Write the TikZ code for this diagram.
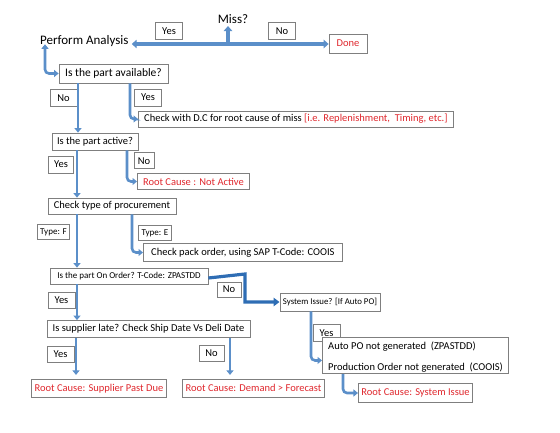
\documentclass[tikz,border=0pt]{standalone}
\usepackage{fontspec}
\setmainfont{Carlito}
\usetikzlibrary{arrows.meta}
\definecolor{lineblue}{HTML}{5B8FC9}
\definecolor{darkblue}{HTML}{2E6DB4}
\definecolor{boxgray}{HTML}{7F7F7F}
\definecolor{rcred}{HTML}{E0282E}
\tikzset{
  box/.style={draw=boxgray, line width=0.8pt, fill=white, inner xsep=3pt, inner ysep=0pt, minimum height=#1, font=\fontsize{10.5}{12}\selectfont},
  box/.default=17pt,
  lab/.style={box, minimum width=27pt, inner xsep=2pt},
  redbox/.style={box=#1, text=rcred},
  redbox/.default=18pt,
  conn/.style={draw=lineblue, line width=2.6pt, rounded corners=4pt, -{Triangle[length=4.5pt,width=7pt]}},
  thick conn/.style={conn, line width=3.2pt, {Triangle[length=5pt,width=8.5pt]}-{Triangle[length=5pt,width=8.5pt]}},
  no conn/.style={draw=darkblue, line width=3.2pt, -{Triangle[length=6pt,width=8.5pt]}},
}
\begin{document}
\begin{tikzpicture}[x=1pt,y=-1pt]
\useasboundingbox (0,0) rectangle (560,433);
% top row
\node[font=\fontsize{13}{14}\selectfont] (miss) at (233,19) {Miss?};
\node[font=\fontsize{13}{14}\selectfont, anchor=west, inner sep=0pt] (pa) at (40,41.5) {Perform Analysis};
\node[lab] (yes1) at (169,31) {Yes};
\node[lab] (no1) at (282,31) {No};
\node[redbox=19pt, minimum width=38pt] (done) at (348,43.5) {Done};
\coordinate (mid) at (228,44);
\draw[thick conn] ([xshift=3pt]pa.east |- mid) -- (done.west |- mid);
\draw[conn, line width=3.2pt, -{Triangle[length=5pt,width=8.5pt]}] (mid) -- ([yshift=1pt]miss.south -| mid);

% question 1
\node[box=19pt, minimum width=109pt, font=\fontsize{11.5}{13}\selectfont] (q1) at (113.5,73.5) {Is the part available?};
\draw[conn, {Triangle[length=4.5pt,width=7pt]}-{Triangle[length=4.5pt,width=7pt]}] ([xshift=5pt,yshift=3pt]pa.south west) |- (q1.west);
\node[lab] (no2) at (63.5,98) {No};
\node[lab] (yes2) at (148,97.5) {Yes};
\node[box=16pt, anchor=west, minimum width=315pt] (dc) at (138,119) {Check with D.C for root cause of miss \textcolor{rcred}{[i.e. Replenishment,\ \ Timing, etc.]}};
\coordinate (q1l) at (78,83);
\coordinate (q1r) at (130,83);

% question 2
\node[box=17pt, minimum width=86pt] (q2) at (95,141.5) {Is the part active?};
\draw[conn] (q1.south -| q1l) -- (q2.north -| q1l);
\draw[conn] (q1.south -| q1r) |- (dc.west);
\node[lab, minimum width=25pt] (yes3) at (61,164.5) {Yes};
\node[lab, minimum width=20pt, minimum height=16pt] (no3) at (144,160.7) {No};
\node[redbox=16pt, anchor=west, minimum width=112pt] (rc1) at (137,181.5) {Root Cause : Not Active};
\coordinate (q2l) at (77,150);
\coordinate (q2r) at (127,150);

% question 3
\node[box=16pt, minimum width=128pt] (q3) at (112,206) {Check type of procurement};
\draw[conn] (q2.south -| q2l) -- (q3.north -| q2l);
\draw[conn] (q2.south -| q2r) |- (rc1.west);
\node[box=15pt, font=\fontsize{9}{10}\selectfont] (tf) at (53.5,232) {Type: F};
\node[box=15pt, font=\fontsize{9}{10}\selectfont] (te) at (155,233) {Type: E};
\node[box=18pt, anchor=west, minimum width=199pt] (cp) at (143,252.5) {Check pack order, using SAP T-Code: COOIS};
\coordinate (q3l) at (77,214);
\coordinate (q3r) at (132,214);

% question 4
\node[box=16pt, minimum width=158pt, font=\fontsize{9}{10}\selectfont] (q4) at (129,276) {Is the part On Order? T-Code: ZPASTDD};
\draw[conn] (q3.south -| q3l) -- (q4.north -| q3l);
\draw[conn] (q3.south -| q3r) |- (cp.west);
\node[lab, minimum width=24pt, minimum height=15pt] (no4) at (229,289.5) {No};
\node[box=18pt, font=\fontsize{8.8}{10}\selectfont] (si) at (330,302) {System Issue? [If Auto PO]};
\coordinate (q4bend) at (245,274);
\draw[no conn] ([yshift=-2pt]q4.east) -- (q4bend) |- (si.west);
\node[lab, minimum height=16pt] (yes4) at (61.5,300) {Yes};
\coordinate (q4l) at (77,284);

% question 5
\node[box=17pt, minimum width=203pt] (q5) at (148.5,329) {Is supplier late? Check Ship Date Vs Deli Date};
\draw[conn] (q4.south -| q4l) -- (q5.north -| q4l);
\node[lab, minimum height=17pt] (yes5) at (326.5,333.3) {Yes};
\node[draw=boxgray, line width=0.8pt, fill=white, minimum width=186pt, minimum height=36.5pt, anchor=north west] (auto) at (322,336.8) {};
\node[anchor=west, font=\fontsize{10.5}{12}\selectfont, inner sep=0pt] (auto1) at (328,346.7) {Auto PO not generated\ \ (ZPASTDD)};
\node[anchor=west, font=\fontsize{10.5}{12}\selectfont, inner sep=0pt] (auto2) at (328,367.5) {Production Order not generated\ \ (COOIS)};
\coordinate (sil) at (311,311);
\draw[conn] (si.south -| sil) |- ([yshift=-5pt]auto.west);

\node[lab, minimum height=16pt] (yes6) at (60.5,354) {Yes};
\node[lab, minimum width=25pt, minimum height=16pt] (no6) at (211.5,353) {No};
\node[redbox=18pt] (rc2) at (99,388.3) {Root Cause: Supplier Past Due};
\node[redbox=18pt] (rc3) at (253.5,388.3) {Root Cause: Demand > Forecast};
\node[redbox=19pt] (rc4) at (415.5,393) {Root Cause: System Issue};
\coordinate (q5l) at (76,338);
\coordinate (q5r) at (230,338);
\draw[conn, shorten >=4pt] (q5.south -| q5l) -- (rc2.north -| q5l);
\draw[conn, shorten >=4pt] (q5.south -| q5r) -- (rc3.north -| q5r);
\coordinate (autol) at (343,373);
\draw[conn] (auto.south -| autol) |- (rc4.west);
\end{tikzpicture}
\end{document}
